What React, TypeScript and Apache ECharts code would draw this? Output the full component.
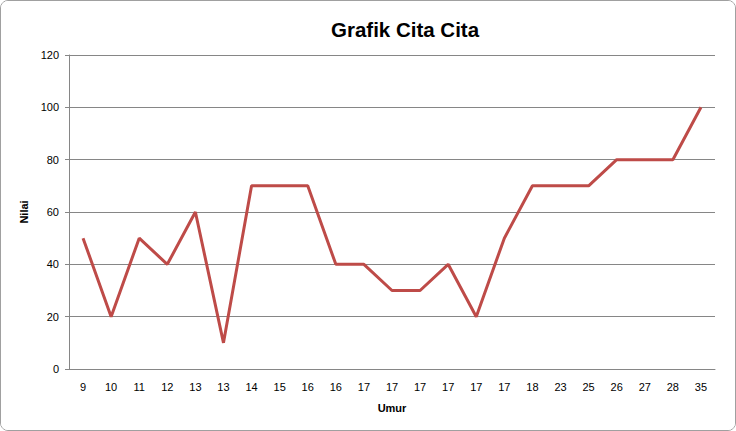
import React, { useEffect, useRef } from 'react';
import * as echarts from 'echarts';

const umur = ['9', '10', '11', '12', '13', '13', '14', '15', '16', '16', '17', '17', '17', '17', '17', '17', '18', '23', '25', '26', '27', '28', '35'];
const nilai = [50, 20, 50, 40, 60, 10, 70, 70, 70, 40, 40, 30, 30, 40, 20, 50, 70, 70, 70, 80, 80, 80, 100];

const App: React.FC = () => {
  const chartRef = useRef<HTMLDivElement>(null);

  useEffect(() => {
    document.body.style.margin = '0';
    if (!chartRef.current) return;
    const chart = echarts.init(chartRef.current, undefined, { renderer: 'svg' });

    const font = "'Liberation Sans', Arial, sans-serif";

    chart.setOption({
      animation: false,
      backgroundColor: '#fff',
      title: {
        text: 'Grafik Cita Cita',
        left: 326,
        top: 14,
        textStyle: { fontSize: 20.5, fontWeight: 'bold', color: '#000', fontFamily: font }
      },
      grid: { left: 69, right: 21, top: 55, bottom: 62 },
      xAxis: {
        type: 'category',
        data: umur,
        boundaryGap: true,
        name: 'Umur',
        nameLocation: 'middle',
        nameGap: 33,
        nameTextStyle: { fontSize: 11, fontWeight: 'bold', color: '#000', fontFamily: font },
        axisLine: { lineStyle: { color: '#868686' } },
        axisTick: { show: false },
        axisLabel: { interval: 0, fontSize: 11, color: '#000', margin: 12, fontFamily: font }
      },
      yAxis: {
        type: 'value',
        min: 0,
        max: 120,
        interval: 20,
        name: 'Nilai',
        nameLocation: 'middle',
        nameGap: 37,
        nameTextStyle: { fontSize: 11, fontWeight: 'bold', color: '#000', fontFamily: font },
        axisLine: { show: true, lineStyle: { color: '#868686' } },
        axisTick: { show: true, length: 4, lineStyle: { color: '#868686' } },
        axisLabel: { fontSize: 11, color: '#000', margin: 10, fontFamily: font },
        splitLine: { lineStyle: { color: '#868686', width: 1 } }
      },
      series: [
        {
          type: 'line',
          data: nilai,
          showSymbol: false,
          symbol: 'none',
          lineStyle: { color: '#BE4B48', width: 3 },
          itemStyle: { color: '#BE4B48' }
        }
      ]
    });

    return () => {
      chart.dispose();
    };
  }, []);

  return (
    <div
      style={{
        width: 736,
        height: 431,
        position: 'relative',
        boxSizing: 'border-box',
        border: '1px solid #a0a0a0',
        borderRadius: 8,
        overflow: 'hidden',
        background: '#fff'
      }}
    >
      <div ref={chartRef} style={{ position: 'absolute', left: -1, top: -1, width: 736, height: 431 }} />
    </div>
  );
};

export default App;
